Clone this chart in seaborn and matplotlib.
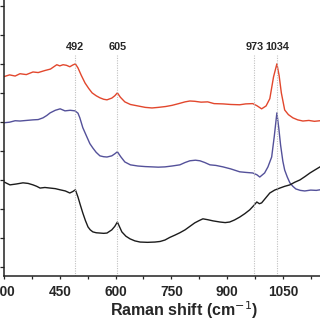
import matplotlib
matplotlib.use("Agg")
import matplotlib.pyplot as plt
import seaborn as sns
import pandas as pd

# Raman spectra (offset intensities, arbitrary units)
red_x = [300, 315, 330, 343, 360, 378, 392, 410, 425, 442, 450, 459, 468, 477, 485, 492,
         499, 508, 518, 528, 537, 548, 558, 568, 577, 590, 598, 605, 613, 625, 640, 660,
         680, 698, 715, 735, 752, 770, 787, 800, 813, 830, 848, 865, 889, 910, 934, 950,
         969, 980, 993, 1005, 1015, 1025, 1034, 1040, 1046, 1055, 1065, 1077, 1090, 1104,
         1120, 1135, 1150, 1165]
red_y = [6.56, 6.62, 6.58, 6.66, 6.63, 6.72, 6.70, 6.77, 6.82, 6.97, 6.93, 6.97, 6.95, 6.90, 6.96, 7.00,
         6.86, 6.60, 6.34, 6.15, 6.00, 5.90, 5.83, 5.78, 5.76, 5.82, 5.90, 6.00, 5.85, 5.69, 5.60, 5.55,
         5.50, 5.48, 5.50, 5.53, 5.57, 5.63, 5.69, 5.72, 5.71, 5.68, 5.69, 5.63, 5.62, 5.60, 5.59, 5.62,
         5.63, 5.56, 5.45, 5.55, 5.80, 6.55, 7.00, 6.60, 6.00, 5.41, 5.25, 5.14, 5.07, 5.03,
         5.05, 5.02, 5.04, 5.03]

blue_x = [300, 315, 330, 343, 360, 378, 392, 405, 415, 424, 438, 451, 464, 478, 491, 499,
          504, 512, 523, 531, 539, 548, 558, 568, 577, 590, 598, 605, 614, 625, 640, 660,
          680, 698, 715, 733, 752, 773, 787, 800, 815, 827, 840, 854, 870, 889, 910, 934,
          950, 969, 980, 988, 1001, 1010, 1020, 1027, 1034, 1039, 1044, 1050, 1055, 1062,
          1069, 1077, 1085, 1097, 1109, 1125, 1140, 1150, 1165]
blue_y = [4.97, 4.99, 5.04, 5.03, 5.05, 5.07, 5.08, 5.14, 5.22, 5.31, 5.40, 5.45, 5.38, 5.40, 5.38, 5.30,
          5.14, 4.80, 4.48, 4.25, 4.10, 3.95, 3.83, 3.80, 3.79, 3.83, 3.90, 3.97, 3.80, 3.62, 3.52, 3.48,
          3.46, 3.45, 3.44, 3.45, 3.48, 3.52, 3.60, 3.66, 3.68, 3.66, 3.60, 3.52, 3.50, 3.45, 3.38, 3.28,
          3.26, 3.24, 3.18, 3.10, 3.24, 3.45, 3.79, 4.50, 5.31, 4.80, 4.20, 3.65, 3.34, 3.10,
          2.90, 2.78, 2.69, 2.64, 2.62, 2.65, 2.64, 2.66, 2.67]

black_x = [300, 316, 333, 351, 365, 378, 388, 397, 410, 424, 438, 451, 465, 477, 485, 492,
           499, 505, 512, 519, 526, 532, 539, 548, 558, 568, 577, 590, 598, 605, 611, 617,
           628, 639, 652, 666, 686, 706, 720, 733, 746, 760, 773, 787, 800, 813, 825, 835,
           848, 862, 881, 895, 907, 920, 934, 948, 961, 972, 980, 987, 993, 1004, 1015, 1028,
           1042, 1055, 1069, 1082, 1096, 1110, 1123, 1137, 1150, 1165]
black_y = [2.93, 2.83, 2.86, 2.90, 2.88, 2.83, 2.78, 2.72, 2.74, 2.72, 2.70, 2.66, 2.62, 2.55, 2.60, 2.66,
           2.41, 2.15, 1.86, 1.60, 1.38, 1.28, 1.21, 1.18, 1.17, 1.16, 1.17, 1.28, 1.40, 1.55, 1.38, 1.21,
           1.06, 0.97, 0.90, 0.86, 0.85, 0.86, 0.88, 0.93, 1.02, 1.10, 1.18, 1.28, 1.40, 1.52, 1.60, 1.66,
           1.63, 1.59, 1.55, 1.53, 1.55, 1.62, 1.72, 1.84, 1.97, 2.12, 2.24, 2.18, 2.21, 2.38, 2.55, 2.65,
           2.72, 2.78, 2.83, 2.92, 3.00, 3.12, 3.24, 3.35, 3.45, 3.55]

peaks = [492, 605, 973, 1034]

sns.set_style("ticks")
plt.rcParams['font.family'] = ['Liberation Sans', 'DejaVu Sans']

fig = plt.figure(figsize=(3.2, 3.2), dpi=100)
ax = fig.add_axes([4 / 320, 44 / 320, 316 / 320, 276 / 320])

series = [(red_x, red_y, '#e2472d'), (blue_x, blue_y, '#54519a'), (black_x, black_y, '#1c1c1c')]
for xs, ys, col in series:
    df = pd.DataFrame({'shift': xs, 'intensity': ys})
    sns.lineplot(data=df, x='shift', y='intensity', color=col, linewidth=1.0, ax=ax)

ax.vlines(peaks, -0.31, 7.32, colors='#c0c0c0', linestyles=(0, (1, 1.2)), linewidth=0.8)
for p in peaks:
    ax.text(p, 7.42, str(p), ha='center', va='bottom', fontsize=7.8, fontweight='bold')

ax.set_xlim(300, 1150)
ax.set_ylim(-0.31, 9.2)
ax.set_xticks([300, 450, 600, 750, 900, 1050])
ax.set_xticks([375, 525, 675, 825, 975, 1125], minor=True)
ax.set_yticks(range(0, 10))
ax.set_yticklabels([])
ax.tick_params(axis='x', which='both', direction='out', length=2.5, width=0.9, pad=4,
               labelsize=9.8)
ax.tick_params(axis='y', direction='out', length=3, width=0.9)
for lbl in ax.get_xticklabels():
    lbl.set_fontweight('bold')
ax.set_xlabel('Raman shift (cm$^{-1}$)', fontsize=11.5, fontweight='bold')
ax.xaxis.set_label_coords(0.57, -0.085)
ax.set_ylabel('')
sns.despine(ax=ax)
for s in ['left', 'bottom']:
    ax.spines[s].set_linewidth(1.1)
    ax.spines[s].set_color('#222222')

fig.savefig('out.png', dpi=100)
